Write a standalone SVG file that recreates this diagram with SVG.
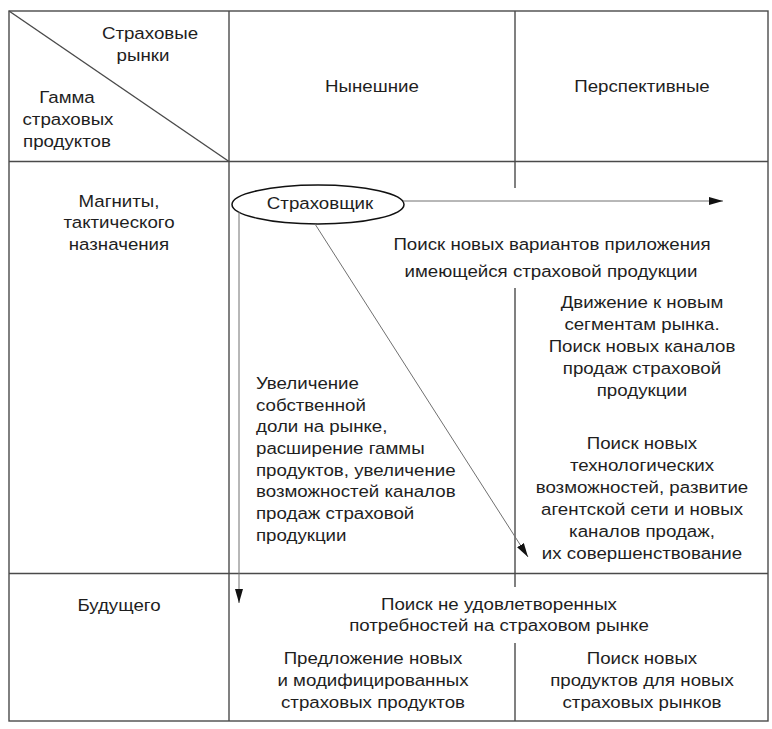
<svg xmlns="http://www.w3.org/2000/svg" width="772" height="729" viewBox="0 0 772 729">
<defs>
<style>
.grid{stroke:#4a4a4a;stroke-width:1.4;fill:none}
.conn{stroke:#707070;stroke-width:1;fill:none}
text{font-family:"Liberation Sans",Arial,sans-serif;font-size:17px;fill:#1e1e1e;transform-box:fill-box;transform-origin:center;transform:scaleX(1.1)}
text.l{transform-origin:left center}
.c{text-anchor:middle}
</style>
<marker id="ah" markerUnits="userSpaceOnUse" markerWidth="14" markerHeight="8" refX="14" refY="4" orient="auto">
<path d="M0,0 L14,4 L0,8 z" fill="#111"/>
</marker>
</defs>
<rect width="772" height="729" fill="#fff"/>
<g id="grid">
<rect class="grid" x="9" y="11" width="759" height="710"/>
<line class="grid" x1="229" y1="11" x2="229" y2="721"/>
<line class="grid" x1="9" y1="161.5" x2="768" y2="161.5"/>
<line class="grid" x1="9" y1="573.5" x2="768" y2="573.5"/>
<line class="grid" x1="9" y1="11" x2="229" y2="161.5"/>
<line class="grid" x1="515" y1="11" x2="515" y2="188"/>
<line class="grid" x1="515" y1="288" x2="515" y2="587"/>
<line class="grid" x1="515" y1="643" x2="515" y2="721"/>
</g>
<g id="header-corner">
<text class="c" x="150" y="39">Страховые</text>
<text class="c" x="143" y="61">рынки</text>
<text class="c" x="67" y="103">Гамма</text>
<text class="c" x="68" y="125">страховых</text>
<text class="c" x="67" y="147">продуктов</text>
</g>
<g id="col-current"><text class="c" x="372" y="92">Нынешние</text></g>
<g id="col-prospective"><text class="c" x="642" y="92">Перспективные</text></g>
<g id="row-magnets">
<text class="c" x="119" y="207">Магниты,</text>
<text class="c" x="119" y="228.5">тактического</text>
<text class="c" x="119" y="250">назначения</text>
</g>
<g id="row-future"><text class="c" x="119" y="611">Будущего</text></g>
<g id="insurer">
<ellipse cx="318" cy="204.5" rx="86" ry="19.5" fill="#fff" stroke="#111" stroke-width="1.5"/>
<text class="c" x="320" y="209">Страховщик</text>
</g>
<g id="connectors">
<line class="conn" x1="403" y1="201" x2="723" y2="201" marker-end="url(#ah)"/>
<line class="conn" x1="239" y1="212" x2="239" y2="603" marker-end="url(#ah)"/>
<line class="conn" x1="315" y1="224" x2="528" y2="557" marker-end="url(#ah)"/>
</g>
<g id="new-applications">
<text class="c" x="552" y="250">Поиск новых вариантов приложения</text>
<text class="c" x="551" y="277">имеющейся страховой продукции</text>
</g>
<g id="new-segments">
<text class="c" x="642" y="308">Движение к новым</text>
<text class="c" x="642" y="330">сегментам рынка.</text>
<text class="c" x="642" y="352">Поиск новых каналов</text>
<text class="c" x="642" y="374">продаж страховой</text>
<text class="c" x="642" y="396">продукции</text>
</g>
<g id="tech">
<text class="c" x="642" y="449">Поиск новых</text>
<text class="c" x="642" y="471">технологических</text>
<text class="c" x="642" y="493">возможностей, развитие</text>
<text class="c" x="642" y="515">агентской сети и новых</text>
<text class="c" x="642" y="537">каналов продаж,</text>
<text class="c" x="642" y="559">их совершенствование</text>
</g>
<g id="share">
<text class="l" x="256" y="389">Увеличение</text>
<text class="l" x="256" y="410.7">собственной</text>
<text class="l" x="256" y="432.3">доли на рынке,</text>
<text class="l" x="256" y="454">расширение гаммы</text>
<text class="l" x="256" y="475.7">продуктов, увеличение</text>
<text class="l" x="256" y="497.3">возможностей каналов</text>
<text class="l" x="256" y="519">продаж страховой</text>
<text class="l" x="256" y="540.7">продукции</text>
</g>
<g id="unmet-needs">
<text class="c" x="499" y="610">Поиск не удовлетворенных</text>
<text class="c" x="499" y="631">потребностей на страховом рынке</text>
</g>
<g id="new-products">
<text class="c" x="373" y="664">Предложение новых</text>
<text class="c" x="373" y="686">и модифицированных</text>
<text class="c" x="373" y="708">страховых продуктов</text>
</g>
<g id="new-markets">
<text class="c" x="642" y="664">Поиск новых</text>
<text class="c" x="642" y="686">продуктов для новых</text>
<text class="c" x="642" y="708">страховых рынков</text>
</g>
</svg>
